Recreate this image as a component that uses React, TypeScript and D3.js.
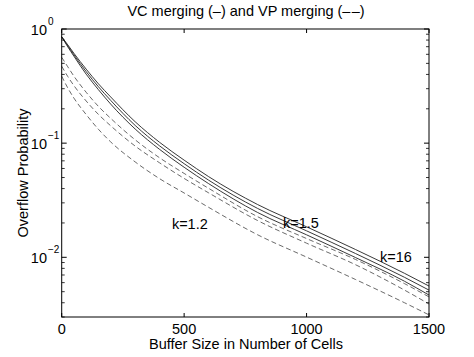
import React from "react";
import * as d3 from "d3";

const bufferSizes = [0, 25, 50, 100, 150, 200, 300, 400, 500, 600, 800, 1000, 1200, 1400, 1500];

// VC merging (solid)
const vcK16 = [0.855, 0.726, 0.612, 0.445, 0.331, 0.254, 0.154, 0.1016, 0.071, 0.0509, 0.029, 0.0185, 0.0117, 0.00724, 0.0056];
const vcK15 = [0.855, 0.711, 0.594, 0.423, 0.312, 0.237, 0.143, 0.0946, 0.0661, 0.0474, 0.0268, 0.01706, 0.01079, 0.00668, 0.00516];
const vcK12 = [0.855, 0.697, 0.577, 0.402, 0.294, 0.22, 0.133, 0.0881, 0.0615, 0.0442, 0.0247, 0.01574, 0.00995, 0.00617, 0.00467];

// VP merging (dashed)
const vpK16 = [0.565, 0.466, 0.386, 0.279, 0.21, 0.165, 0.107, 0.0744, 0.0543, 0.0402, 0.0227, 0.0146, 0.00957, 0.00588, 0.0045];
const vpK15 = [0.472, 0.383, 0.319, 0.234, 0.1786, 0.142, 0.0943, 0.0672, 0.0491, 0.0367, 0.021, 0.0133, 0.00861, 0.00516, 0.0039];
const vpK12 = [0.386, 0.304, 0.248, 0.178, 0.1323, 0.1026, 0.0685, 0.0488, 0.0366, 0.0274, 0.01576, 0.01004, 0.00639, 0.004, 0.00313];

const xTicks = [0, 500, 1000, 1500];
const yMajorTicks = [1, 0.1, 0.01];
const yExponents = ["0", "\u22121", "\u22122"];

const kLabels = ["k=1.2", "k=1.5", "k=16"];
const kLabelPos = [
  [450, 0.0177],
  [904, 0.0179],
  [1300, 0.0091],
];

const titleText = "VC merging (\u2013) and VP merging (\u2013\u200A\u2013)";
const xLabelText = "Buffer Size in Number of Cells";
const yLabelText = "Overflow Probability";

const W = 474;
const H = 357;
const L = 61.7;
const R = 429;
const T = 29;
const B = 317;
const FS = 14.5;
const FONT = "'Liberation Sans', Arial, Helvetica, sans-serif";

export default function App() {
  const x = d3.scaleLinear().domain([0, 1500]).range([L, R]);
  const y = d3.scaleLog().domain([0.003, 1]).range([B, T]);

  const line = d3
    .line<number>()
    .x((_, i) => x(bufferSizes[i]))
    .y((d) => y(d))
    .curve(d3.curveMonotoneX);

  const solids = [vcK16, vcK15, vcK12];
  const dashed = [vpK16, vpK15, vpK12];

  const minor: number[] = [];
  [0.001, 0.01, 0.1].forEach((dec) => {
    for (let m = 2; m <= 9; m++) {
      const v = dec * m;
      if (v >= 0.003 && v < 1) minor.push(v);
    }
  });

  return (
    <svg
      width={W}
      height={H}
      style={{ position: "absolute", left: 0, top: 0, background: "#fff" }}
      fontFamily={FONT}
    >
      <rect x={0} y={0} width={W} height={H} fill="#fff" />
      <g fill="none">
        {dashed.map((s, i) => (
          <path key={"d" + i} d={line(s) || ""} stroke="#444" strokeWidth={0.8} strokeDasharray="5,3" />
        ))}
        {solids.map((s, i) => (
          <path key={"s" + i} d={line(s) || ""} stroke="#222" strokeWidth={0.9} />
        ))}
      </g>
      <rect x={L} y={T} width={R - L} height={B - T} fill="none" stroke="#000" strokeWidth={1} />
      {xTicks.map((t) => (
        <g key={"xt" + t}>
          <line x1={x(t)} x2={x(t)} y1={B} y2={B - 4} stroke="#000" />
          <line x1={x(t)} x2={x(t)} y1={T} y2={T + 4} stroke="#000" />
          <text x={x(t)} y={334} textAnchor="middle" fontSize={FS} fill="#000">
            {t}
          </text>
        </g>
      ))}
      {yMajorTicks.map((t, i) => (
        <g key={"yt" + t}>
          <line x1={L} x2={L + 5} y1={y(t)} y2={y(t)} stroke="#000" />
          <line x1={R} x2={R - 5} y1={y(t)} y2={y(t)} stroke="#000" />
          <text x={47} y={y(t) + 6} textAnchor="end" fontSize={FS} fill="#000">
            10
          </text>
          <text x={48} y={y(t) - 4} textAnchor="start" fontSize={10} fill="#000">
            {yExponents[i]}
          </text>
        </g>
      ))}
      {minor.map((t) => (
        <g key={"ym" + t}>
          <line x1={L} x2={L + 3} y1={y(t)} y2={y(t)} stroke="#000" strokeWidth={0.8} />
          <line x1={R} x2={R - 3} y1={y(t)} y2={y(t)} stroke="#000" strokeWidth={0.8} />
        </g>
      ))}
      {kLabels.map((k, i) => (
        <text key={k} x={x(kLabelPos[i][0])} y={y(kLabelPos[i][1])} fontSize={FS} fill="#000">
          {k}
        </text>
      ))}
      <text x={246} y={16} textAnchor="middle" fontSize={FS} fill="#000">
        {titleText}
      </text>
      <text x={246} y={349} textAnchor="middle" fontSize={FS} fill="#000">
        {xLabelText}
      </text>
      <text
        transform={`translate(28,${(T + B) / 2}) rotate(-90)`}
        textAnchor="middle"
        fontSize={FS}
        fill="#000"
      >
        {yLabelText}
      </text>
    </svg>
  );
}
